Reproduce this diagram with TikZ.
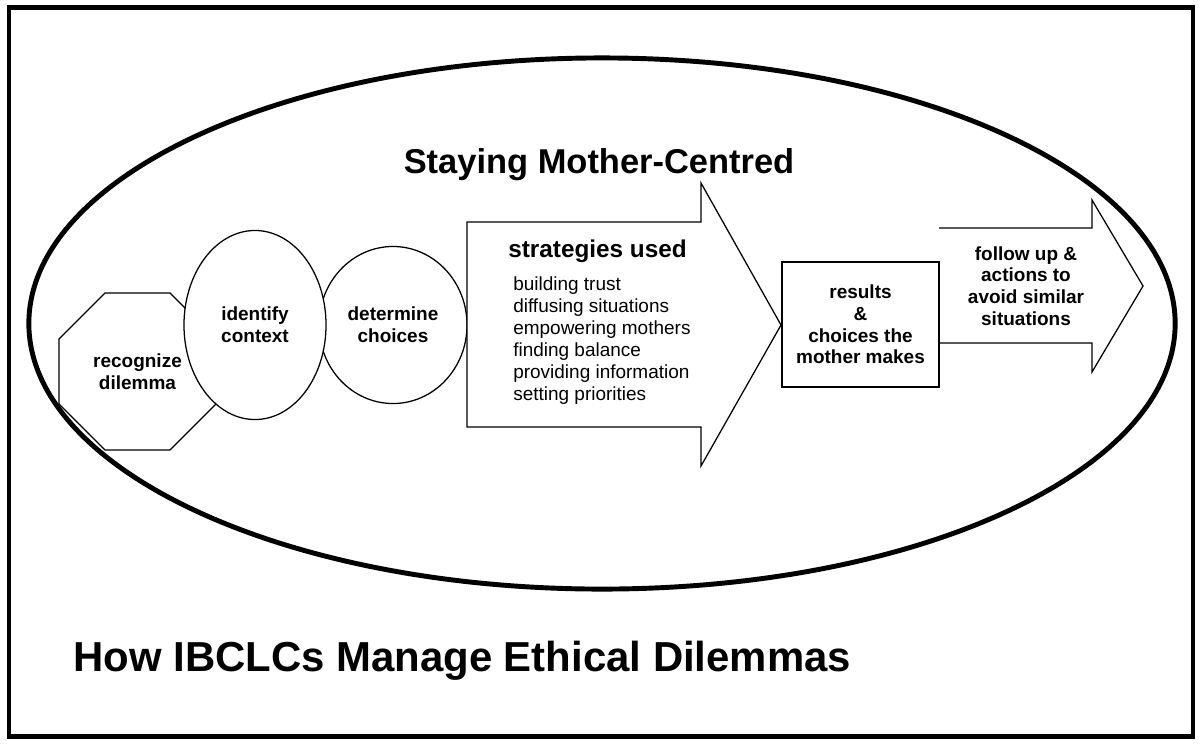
\documentclass[tikz,border=0pt]{standalone}
\usepackage{fontspec}
\setmainfont{Liberation Sans}
\usetikzlibrary{shapes.geometric}

\tikzset{
  stage/.style={draw=black,line width=0.9pt,fill=white,inner sep=0pt,outer sep=0pt,
    align=center,font=\fontsize{13.5}{15.5}\selectfont\bfseries},
  plain/.style={inner sep=0pt,font=\fontsize{13.5}{15.5}\selectfont},
  heavy/.style={line width=3.5pt}
}

\begin{document}
\begin{tikzpicture}[x=0.025cm,y=-0.025cm]
	\useasboundingbox (0,0) rectangle (1200,744);
	\draw[heavy] (9,7.5) rectangle (1193,736.5);
	
	\node[anchor=base,inner sep=0pt,font=\fontsize{24.5}{28}\selectfont\bfseries] (centred) at (599,173) {Staying Mother-Centred};
	
	% first steps
	\node[stage,regular polygon,regular polygon sides=8,minimum size=4.25cm] (recog) at (137.5,371.5) {recognize\\dilemma};
	\node[stage,ellipse,minimum width=3.7cm,minimum height=3.925cm] (choice) at (393,325) {determine\\choices};
	\node[stage,ellipse,minimum width=3.55cm,minimum height=4.725cm] (ident) at (255,325) {identify\\context};
	
	% strategies
	\draw[line width=0.9pt,fill=white] (467,222) -- (701,222) -- (701,183) -- (781,325) -- (701,466) -- (701,427) -- (467,427) -- cycle;
	\node[anchor=base west,inner sep=0pt,font=\fontsize{17.3}{20}\selectfont\bfseries] (strat) at (508,257) {strategies used};
	\foreach \t [count=\i] in {building trust,diffusing situations,empowering mothers,finding balance,providing information,setting priorities} {
		\node[plain,anchor=base west] (s\i) at (513,268+22*\i) {\t};
	}
	
	% results and follow up
	\node[stage,rectangle,minimum width=3.925cm,minimum height=3.125cm] (res) at (860.5,324.5) {results\\\&\\choices the\\mother makes};
	\draw[line width=0.9pt] (res.east |- 0,228) -- (1092,228) -- (1092,200) -- (1143,286) -- (1092,372) -- (1092,343) -- (res.east |- 0,343);
	\node[plain,align=center,font=\fontsize{13.5}{15.5}\selectfont\bfseries] (follow) at (1026,286) {follow up \&\\actions to\\avoid similar\\situations};
	
	% outer ellipse on top
	\draw[heavy] (602,323.5) ellipse [x radius=14.325cm, y radius=6.6375cm];
	
	\node[anchor=base west,inner sep=0pt,font=\fontsize{29.8}{34}\selectfont\bfseries] (title) at (73,671) {How IBCLCs Manage Ethical Dilemmas};
\end{tikzpicture}
\end{document}
